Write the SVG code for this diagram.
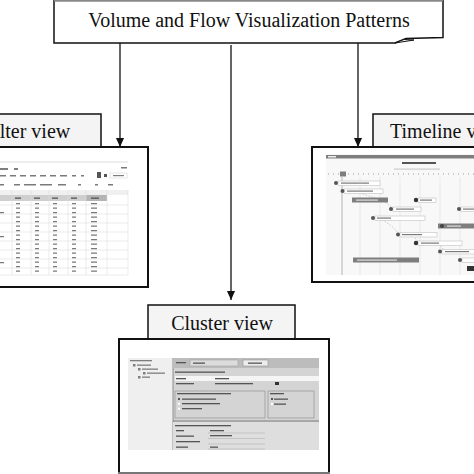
<svg xmlns="http://www.w3.org/2000/svg" width="474" height="474" viewBox="0 0 474 474">
<defs>
<style>
.lbl{font-family:"Liberation Serif","Times New Roman",serif;font-size:20px;fill:#111}
.box{fill:#f4f4f4;stroke:#111;stroke-width:1.5}
.panel{fill:#fff;stroke:#111;stroke-width:2}
.con{stroke:#111;stroke-width:1.3;fill:none}
.g1{fill:#e6e6e6}
.g2{fill:#bdbdbd}
.g3{fill:#7e7e7e}
.g4{fill:#555}
.tx{fill:#7a7a7a}
.grid{stroke:#dedede;stroke-width:0.6}
.ibox{fill:#fff;stroke:#c0c0c0;stroke-width:0.6}
.dash{stroke:#aaa;stroke-width:0.6;stroke-dasharray:1.5 1.5;fill:none}
</style>
<marker id="arr" viewBox="0 0 10 10" refX="10" refY="5" markerWidth="9" markerHeight="9" markerUnits="userSpaceOnUse" orient="auto">
<path d="M0,0.5 L10,5 L0,9.5 z" fill="#111"/>
</marker>
</defs>
<rect width="474" height="474" fill="#fff"/>

<g id="connectors">
<line class="con" x1="120" y1="43" x2="120" y2="147" marker-end="url(#arr)"/>
<line class="con" x1="231" y1="45" x2="231" y2="300" marker-end="url(#arr)"/>
<line class="con" x1="358" y1="43" x2="358" y2="147" marker-end="url(#arr)"/>
</g>

<g id="title">
<path d="M54,0.5 L443,0.5 L443,37.5 L406,38.5 L395,43 L54,43 Z" fill="#fff" stroke="#111" stroke-width="1.5"/>
<rect x="54" y="-1" width="389" height="2.5" fill="#888"/>
<path d="M395,43 L404,39.5 L414,40 Z" fill="#fff" stroke="#111" stroke-width="1"/>
<text class="lbl" x="249" y="27" text-anchor="middle">Volume and Flow Visualization Patterns</text>
</g>

<g id="filter-view">
<rect class="box" x="-5" y="114" width="106" height="34"/>
<text class="lbl" x="-17" y="138">Filter view</text>
<rect class="panel" x="-5" y="147" width="153" height="140"/>
<rect x="0" y="161" width="128" height="2" fill="#eee"/>
<rect x="0" y="168" width="8" height="2" class="g3"/>
<rect x="14" y="168" width="4" height="2" class="g3"/>
<rect x="121" y="167" width="6" height="1.5" class="tx"/>
<g class="tx">
<rect x="0" y="175" width="6" height="1.5"/><rect x="10" y="175" width="6" height="1.5"/><rect x="20" y="175" width="6" height="1.5"/><rect x="30" y="175" width="6" height="1.5"/><rect x="40" y="175" width="6" height="1.5"/><rect x="50" y="175" width="6" height="1.5"/><rect x="60" y="175" width="7" height="1.5"/><rect x="72" y="175" width="4" height="1.5"/><rect x="81" y="175" width="3" height="1.5"/>
<rect x="0" y="184" width="4" height="1.5"/><rect x="14" y="184" width="6" height="1.5"/><rect x="24" y="184" width="12" height="1.5"/><rect x="40" y="184" width="12" height="1.5"/><rect x="58" y="184" width="8" height="1.5"/><rect x="78" y="184" width="3" height="1.5"/><rect x="95" y="184" width="3" height="1.5"/><rect x="108" y="184" width="5" height="1.5"/>
</g>
<rect x="97" y="172" width="4" height="6" class="g4"/>
<rect x="104" y="174" width="3" height="3" class="g4"/>
<rect x="110" y="173" width="17" height="5" fill="#fff" stroke="#ccc" stroke-width="0.5"/>
<rect x="113" y="175" width="11" height="1.2" class="g3"/>
<rect x="0" y="190" width="128" height="5" fill="#f0f0f0"/>
<rect x="0" y="195" width="107" height="6" fill="#cfcfcf"/>
<rect x="86" y="195" width="21" height="6" fill="#b4b4b4"/>
<g class="g4">
<rect x="15" y="197.5" width="6" height="1.3"/><rect x="34" y="197.5" width="6" height="1.3"/><rect x="52" y="197.5" width="6" height="1.3"/><rect x="71" y="197.5" width="6" height="1.3"/><rect x="91" y="197.5" width="8" height="1.3"/>
</g>
<g class="grid">
<line x1="12" y1="190" x2="12" y2="275"/><line x1="31" y1="190" x2="31" y2="275"/><line x1="49" y1="190" x2="49" y2="275"/><line x1="68" y1="190" x2="68" y2="275"/><line x1="86" y1="190" x2="86" y2="275"/><line x1="107" y1="190" x2="107" y2="275"/><line x1="128" y1="190" x2="128" y2="275"/>
<line x1="0" y1="205" x2="128" y2="205"/><line x1="0" y1="214" x2="128" y2="214"/><line x1="0" y1="223" x2="128" y2="223"/><line x1="0" y1="232" x2="128" y2="232"/><line x1="0" y1="241" x2="128" y2="241"/><line x1="0" y1="250" x2="128" y2="250"/><line x1="0" y1="259" x2="128" y2="259"/><line x1="0" y1="268" x2="128" y2="268"/><line x1="0" y1="275" x2="128" y2="275"/>
</g>
<g id="cells" class="tx">
<path d="M16,203h4v1.3h-4zM35,203h4v1.3h-4zM53,203h4v1.3h-4zM72,203h4v1.3h-4zM91,203h6v1.3h-6z"/>
<path d="M16,207.5h4v1.3h-4zM35,207.5h4v1.3h-4zM53,207.5h4v1.3h-4zM72,207.5h4v1.3h-4zM91,207.5h6v1.3h-6z"/>
<path d="M16,212h4v1.3h-4zM35,212h4v1.3h-4zM53,212h4v1.3h-4zM72,212h4v1.3h-4zM91,212h6v1.3h-6z"/>
<path d="M16,216.5h4v1.3h-4zM35,216.5h4v1.3h-4zM53,216.5h4v1.3h-4zM72,216.5h4v1.3h-4zM91,216.5h6v1.3h-6z"/>
<path d="M16,221h4v1.3h-4zM35,221h4v1.3h-4zM53,221h4v1.3h-4zM72,221h4v1.3h-4zM91,221h6v1.3h-6z"/>
<path d="M16,225.5h4v1.3h-4zM35,225.5h4v1.3h-4zM53,225.5h4v1.3h-4zM72,225.5h4v1.3h-4zM91,225.5h6v1.3h-6z"/>
<path d="M16,230h4v1.3h-4zM35,230h4v1.3h-4zM53,230h4v1.3h-4zM72,230h4v1.3h-4zM91,230h6v1.3h-6z"/>
<path d="M16,234.5h4v1.3h-4zM35,234.5h4v1.3h-4zM53,234.5h4v1.3h-4zM72,234.5h4v1.3h-4zM91,234.5h6v1.3h-6z"/>
<path d="M16,239h4v1.3h-4zM35,239h4v1.3h-4zM53,239h4v1.3h-4zM72,239h4v1.3h-4zM91,239h6v1.3h-6z"/>
<path d="M16,243.5h4v1.3h-4zM35,243.5h4v1.3h-4zM53,243.5h4v1.3h-4zM72,243.5h4v1.3h-4zM91,243.5h6v1.3h-6z"/>
<path d="M16,248h4v1.3h-4zM35,248h4v1.3h-4zM53,248h4v1.3h-4zM72,248h4v1.3h-4zM91,248h6v1.3h-6z"/>
<path d="M16,252.5h4v1.3h-4zM35,252.5h4v1.3h-4zM53,252.5h4v1.3h-4zM72,252.5h4v1.3h-4zM91,252.5h6v1.3h-6z"/>
<path d="M16,257h4v1.3h-4zM35,257h4v1.3h-4zM53,257h4v1.3h-4zM72,257h4v1.3h-4zM91,257h6v1.3h-6z"/>
<path d="M16,261.5h4v1.3h-4zM35,261.5h4v1.3h-4zM53,261.5h4v1.3h-4zM72,261.5h4v1.3h-4zM91,261.5h6v1.3h-6z"/>
<path d="M16,266h4v1.3h-4zM35,266h4v1.3h-4zM53,266h4v1.3h-4zM72,266h4v1.3h-4zM91,266h6v1.3h-6z"/>
<path d="M16,270.5h4v1.3h-4zM35,270.5h4v1.3h-4zM53,270.5h4v1.3h-4zM72,270.5h4v1.3h-4zM91,270.5h6v1.3h-6z"/>
<path d="M0,212h4v1.2h-4zM0,236h4v1.2h-4zM0,262h4v1.2h-4z"/>
</g>
</g>

<g id="timeline-view">
<rect class="box" x="373" y="114" width="110" height="34"/>
<text class="lbl" x="390" y="138">Timeline view</text>
<rect class="panel" x="312" y="147" width="170" height="135"/>
<rect x="326" y="154" width="150" height="121" fill="#f8f8f8"/>
<rect x="326" y="155" width="150" height="3.5" class="g3"/>
<rect x="328" y="156" width="8" height="1.5" fill="#eee"/>
<rect x="402" y="162" width="34" height="2" class="g4"/>
<rect x="394" y="168.5" width="46" height="1.2" fill="#ccc"/>
<line x1="328" y1="174" x2="474" y2="174" stroke="#999" stroke-width="1" stroke-dasharray="1 4"/>
<rect x="340" y="171.5" width="6" height="5" class="g3"/>
<line x1="342" y1="177" x2="342" y2="275" stroke="#999" stroke-width="0.7"/>
<g class="grid">
<line x1="360" y1="177" x2="360" y2="275"/><line x1="380" y1="177" x2="380" y2="275"/><line x1="400" y1="177" x2="400" y2="275"/><line x1="420" y1="177" x2="420" y2="275"/><line x1="440" y1="177" x2="440" y2="275"/><line x1="460" y1="177" x2="460" y2="275"/>
</g>
<path class="dash" d="M360,193 C380,200 385,200 393,209 M376,218 C395,224 395,232 400,235 M415,238 C420,243 420,243 418,243 M440,246 C445,250 445,251 442,252"/>
<g id="tl-items">
<rect class="ibox" x="338" y="181" width="42" height="4.5"/><circle cx="336" cy="183" r="2" class="g4"/><rect x="341" y="182.5" width="28" height="1.2" class="tx"/>
<rect class="ibox" x="344" y="189" width="39" height="4.5"/><circle cx="342.5" cy="191" r="2" class="g4"/><rect x="347" y="190.5" width="26" height="1.2" class="tx"/>
<rect x="352" y="197.5" width="36" height="5" class="g3"/><rect x="356" y="199.5" width="22" height="1.2" fill="#ddd"/>
<rect class="ibox" x="418" y="198" width="18" height="4.5"/><circle cx="416" cy="200" r="2.2" fill="#333"/><rect x="420" y="199.5" width="12" height="1.2" class="tx"/>
<rect class="ibox" x="393" y="207" width="28" height="4.5"/><circle cx="391" cy="209" r="2" class="g4"/><rect x="396" y="208.5" width="18" height="1.2" class="tx"/>
<rect class="ibox" x="461" y="207" width="20" height="4.5"/><circle cx="459" cy="209" r="2" class="g4"/><rect x="463" y="208.5" width="12" height="1.2" class="tx"/>
<rect class="ibox" x="375" y="216" width="50" height="4.5"/><circle cx="373" cy="218" r="2" class="g4"/><rect x="377" y="217.5" width="14" height="1.2" class="tx"/>
<rect x="438" y="223.5" width="40" height="5" class="g3"/><circle cx="442" cy="226" r="2" fill="#444"/><rect x="447" y="225.5" width="14" height="1.2" fill="#ddd"/>
<rect class="ibox" x="400" y="232.5" width="37" height="4.5"/><circle cx="398" cy="234.5" r="2" class="g4"/><rect x="402" y="234" width="20" height="1.2" class="tx"/>
<rect class="ibox" x="418" y="241" width="44" height="4.5"/><circle cx="416" cy="243" r="2.2" fill="#333"/><rect x="421" y="242.5" width="18" height="1.2" class="tx"/>
<rect class="ibox" x="442" y="249.5" width="36" height="4.5"/><circle cx="440" cy="251.5" r="2" class="g4"/><rect x="445" y="251" width="24" height="1.2" class="tx"/>
<rect x="353" y="257.5" width="66" height="5" class="g3"/><rect x="357" y="259.5" width="40" height="1.2" fill="#ddd"/>
<rect class="ibox" x="462" y="258" width="16" height="4.5"/><circle cx="460" cy="260" r="2" class="g4"/>
<rect x="467" y="266" width="8" height="5" fill="#333"/>
</g>
</g>

<g id="cluster-view">
<rect class="box" x="148" y="305" width="147" height="34"/>
<text class="lbl" x="222" y="330" text-anchor="middle" font-size="21">Cluster view</text>
<rect class="panel" x="119" y="339" width="210" height="140"/>
<rect x="118" y="472" width="212" height="3" fill="#777"/>
<rect x="128" y="358" width="191" height="92" fill="#d4d4d4"/>
<rect x="128" y="358" width="45" height="92" fill="#efefef"/>
<line x1="173" y1="358" x2="173" y2="450" stroke="#7a7a7a" stroke-width="0.8"/>
<g class="g3">
<rect x="130" y="360" width="22" height="1.3"/>
<rect x="133" y="364" width="2.5" height="2.5"/><rect x="137" y="364.5" width="14" height="1.3"/>
<rect x="138" y="368" width="2.5" height="2.5"/><rect x="142" y="368.5" width="16" height="1.3"/>
<rect x="143" y="372" width="2.5" height="2.5"/><rect x="147" y="372.5" width="18" height="1.3"/>
<rect x="138" y="376" width="2.5" height="2.5"/><rect x="142" y="376.5" width="8" height="1.3"/>
</g>
<rect x="173" y="358" width="146" height="10" fill="#bcbcbc"/>
<rect x="176" y="362" width="10" height="1.3" class="g4"/>
<rect x="190" y="360" width="48" height="6" fill="#dcdcdc" stroke="#999" stroke-width="0.5"/>
<rect x="193" y="362.5" width="12" height="1.3" class="g4"/>
<rect x="243" y="360" width="25" height="6" fill="#ececec" stroke="#888" stroke-width="0.5"/>
<rect x="248" y="362.5" width="14" height="1.3" class="g4"/>
<rect x="175" y="371.5" width="50" height="1.3" class="g4"/>
<rect x="175" y="376" width="144" height="5" fill="#f5f5f5"/>
<rect x="176" y="378" width="10" height="1.3" class="g4"/><rect x="215" y="378" width="14" height="1.3" class="g4"/>
<rect x="176" y="383" width="18" height="1.3" class="g4"/><rect x="215" y="383" width="38" height="1.3" class="g4"/>
<rect x="275" y="382" width="4" height="3" fill="#333"/>
<rect x="175" y="391" width="90" height="27" fill="none" stroke="#888" stroke-width="0.6"/>
<rect x="268" y="391" width="46" height="27" fill="none" stroke="#888" stroke-width="0.6"/>
<g class="g4">
<rect x="177" y="393" width="54" height="1.3"/>
<rect x="178" y="398" width="2" height="2"/><rect x="182" y="398.5" width="34" height="1.3"/>
<rect x="182" y="403" width="38" height="1.3"/>
<rect x="182" y="408" width="20" height="1.3"/>
<rect x="270" y="393" width="14" height="1.3"/>
<rect x="271" y="398" width="2" height="2"/><rect x="274" y="398.5" width="14" height="1.3"/>
<rect x="274" y="403.5" width="12" height="1.3"/>
</g>
<circle cx="179" cy="403.7" r="1.2" fill="#fff"/>
<circle cx="179" cy="408.7" r="1.2" fill="#fff"/>
<circle cx="272" cy="404" r="1.2" fill="#fff"/>
<line x1="173" y1="421" x2="319" y2="421" stroke="#7a7a7a" stroke-width="1"/>
<rect x="173" y="422" width="146" height="28" fill="#dedede"/>
<g class="g4">
<rect x="175" y="425" width="56" height="1.3"/>
<rect x="176" y="430" width="8" height="1.3"/><rect x="210" y="430" width="14" height="1.3"/>
<rect x="176" y="435.5" width="18" height="1.3"/><rect x="210" y="435" width="22" height="1.3"/>
<rect x="176" y="441" width="24" height="1.3"/>
<rect x="176" y="446.5" width="12" height="1.3"/><rect x="210" y="446.5" width="8" height="1.3"/>
</g>
<g fill="none" stroke="#aaa" stroke-width="0.5">
<line x1="208" y1="433" x2="265" y2="433"/><line x1="208" y1="438.5" x2="265" y2="438.5"/><line x1="208" y1="444" x2="265" y2="444"/><line x1="208" y1="449" x2="265" y2="449"/>
</g>
</g>
</svg>
